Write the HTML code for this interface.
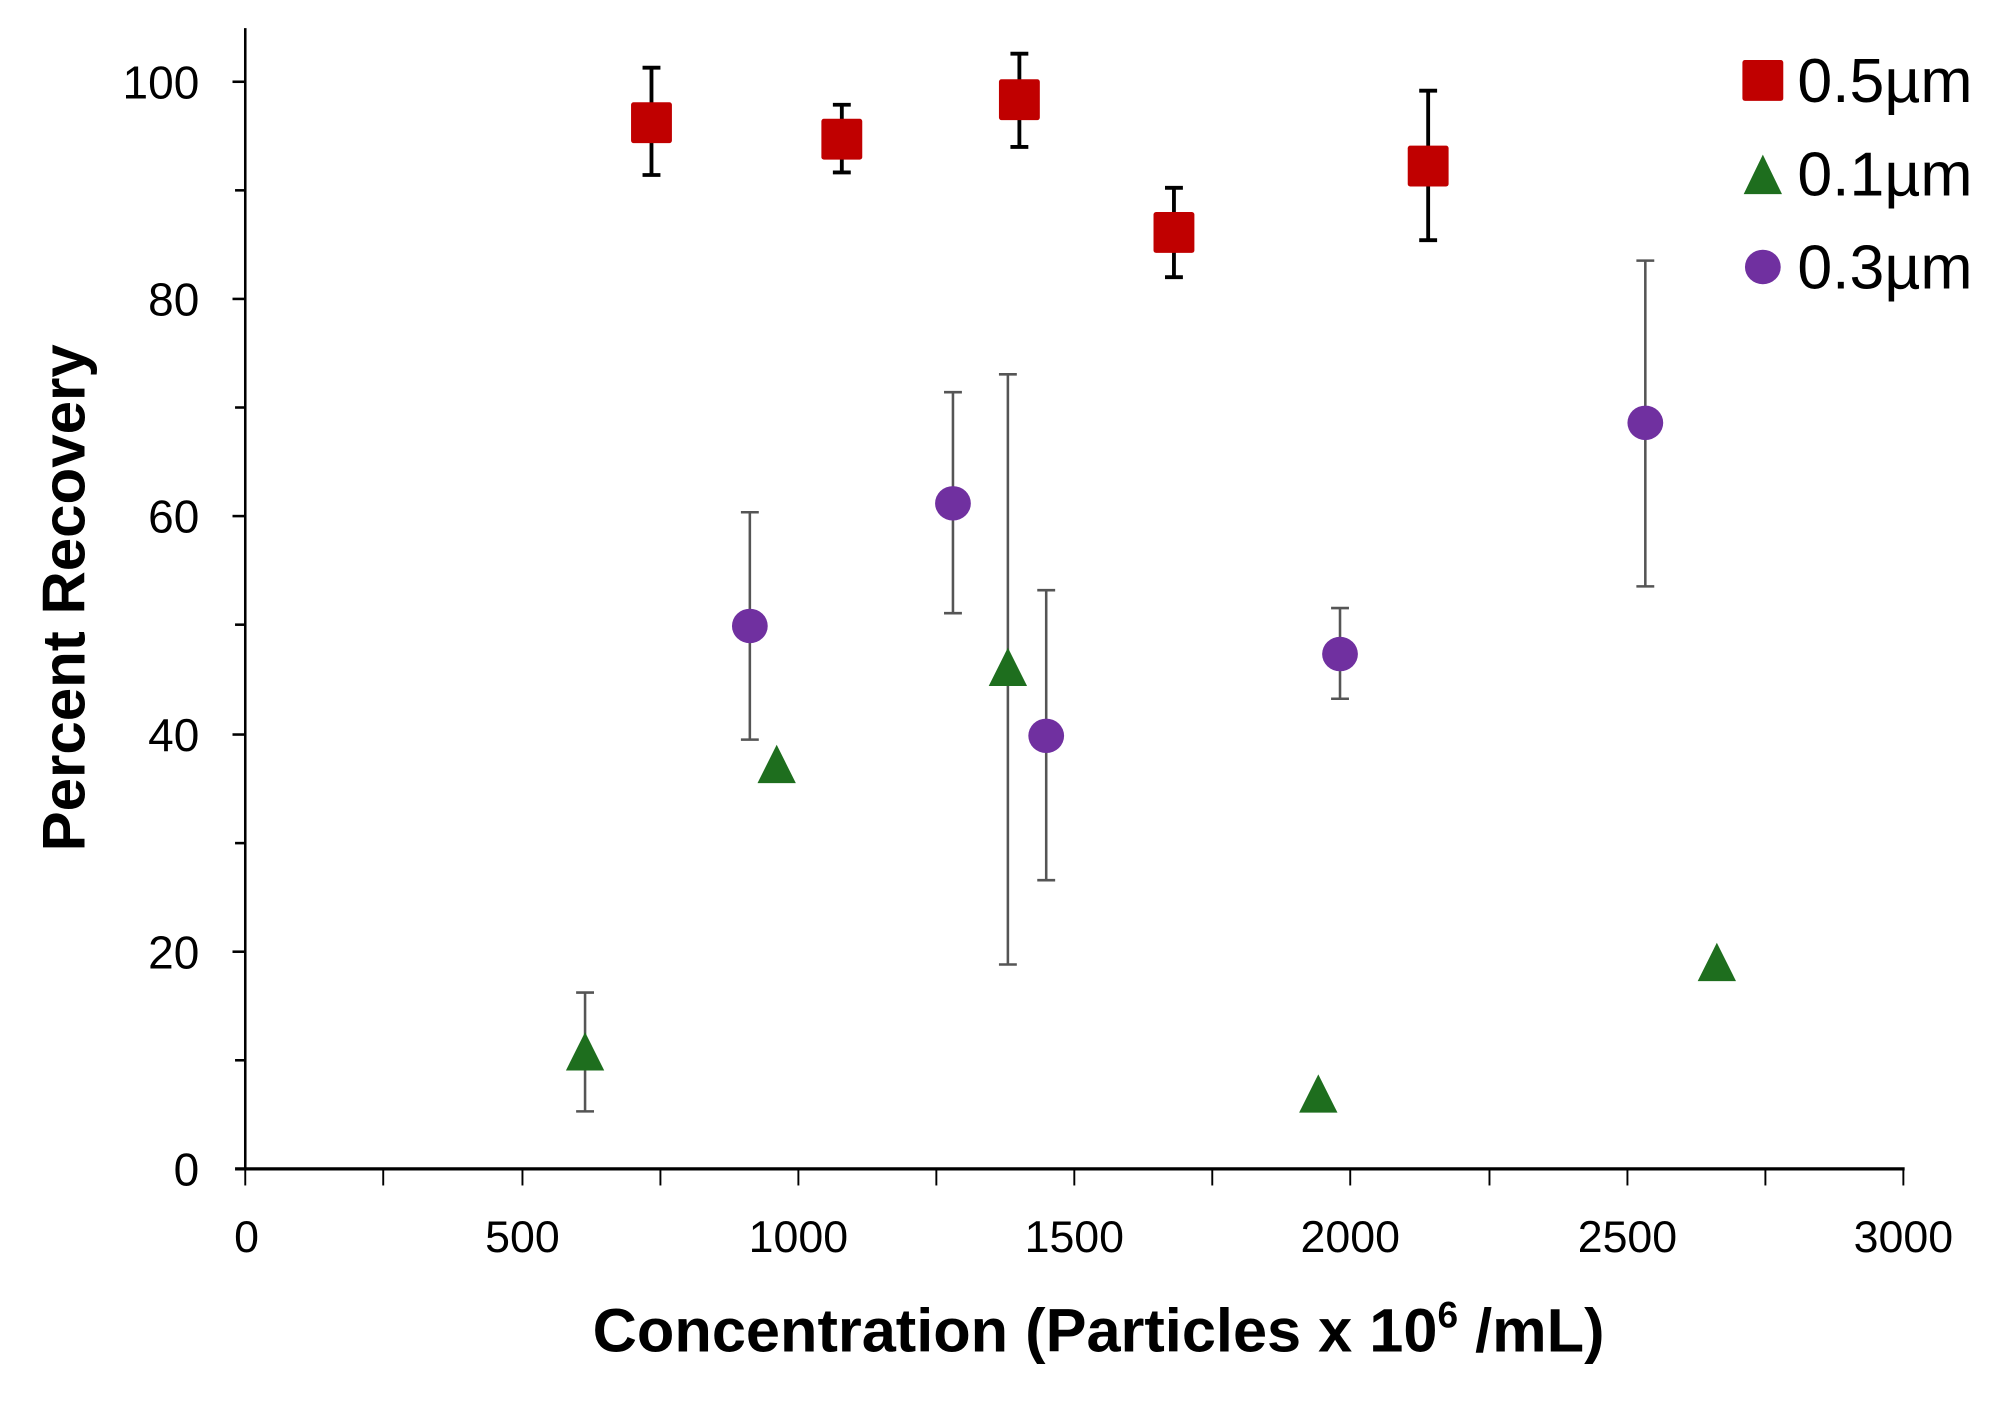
<!DOCTYPE html>
<html><head><meta charset="utf-8"><style>
html,body{margin:0;padding:0;background:#fff;}
svg{display:block;}
text{font-family:"Liberation Sans",Arial,sans-serif;fill:#000;}
</style></head><body>
<svg width="2003" height="1402" viewBox="0 0 1568 1097.5" preserveAspectRatio="none" xmlns="http://www.w3.org/2000/svg">
<line x1="192" y1="22" x2="192" y2="916" stroke="#000" stroke-width="2"/>
<line x1="184" y1="915" x2="1491" y2="915" stroke="#000" stroke-width="2.5"/>
<g stroke="#000" stroke-width="2">
<line x1="182" y1="64" x2="192" y2="64"/><line x1="182" y1="234" x2="192" y2="234"/><line x1="182" y1="404" x2="192" y2="404"/><line x1="182" y1="575" x2="192" y2="575"/><line x1="182" y1="745" x2="192" y2="745"/>
<line x1="184" y1="149" x2="192" y2="149"/><line x1="184" y1="319" x2="192" y2="319"/><line x1="184" y1="489" x2="192" y2="489"/><line x1="184" y1="660" x2="192" y2="660"/><line x1="184" y1="830" x2="192" y2="830"/>
</g>
<g stroke="#000" stroke-width="1.5">
<line x1="192" y1="915" x2="192" y2="928"/><line x1="300" y1="915" x2="300" y2="928"/><line x1="409" y1="915" x2="409" y2="928"/><line x1="517" y1="915" x2="517" y2="928"/><line x1="625" y1="915" x2="625" y2="928"/><line x1="733" y1="915" x2="733" y2="928"/><line x1="841" y1="915" x2="841" y2="928"/><line x1="949" y1="915" x2="949" y2="928"/><line x1="1057" y1="915" x2="1057" y2="928"/><line x1="1166" y1="915" x2="1166" y2="928"/><line x1="1274" y1="915" x2="1274" y2="928"/><line x1="1382" y1="915" x2="1382" y2="928"/><line x1="1490" y1="915" x2="1490" y2="928"/>
</g>
<g font-size="36" text-anchor="end">
<text x="156" y="77">100</text><text x="156" y="247">80</text><text x="156" y="417">60</text><text x="156" y="588">40</text><text x="156" y="758">20</text><text x="156" y="928">0</text>
</g>
<g font-size="35" text-anchor="middle">
<text x="193" y="980">0</text><text x="409" y="980">500</text><text x="625" y="980">1000</text><text x="841" y="980">1500</text><text x="1057" y="980">2000</text><text x="1274" y="980">2500</text><text x="1490" y="980">3000</text>
</g>
<text x="860" y="1058" font-size="48" font-weight="bold" text-anchor="middle">Concentration (Particles x 10<tspan font-size="29" dy="-19">6</tspan><tspan dy="19"> /mL)</tspan></text>
<text transform="translate(66,468) rotate(-90)" font-size="47" font-weight="bold" text-anchor="middle">Percent Recovery</text>
<g stroke="#555" stroke-width="2">
<line x1="587" y1="401" x2="587" y2="579"/><line x1="580" y1="401" x2="594" y2="401"/><line x1="580" y1="579" x2="594" y2="579"/>
<line x1="746" y1="307" x2="746" y2="480"/><line x1="739" y1="307" x2="753" y2="307"/><line x1="739" y1="480" x2="753" y2="480"/>
<line x1="819" y1="462" x2="819" y2="689"/><line x1="812" y1="462" x2="826" y2="462"/><line x1="812" y1="689" x2="826" y2="689"/>
<line x1="1049" y1="476" x2="1049" y2="547"/><line x1="1042" y1="476" x2="1056" y2="476"/><line x1="1042" y1="547" x2="1056" y2="547"/>
<line x1="1288" y1="204" x2="1288" y2="459"/><line x1="1281" y1="204" x2="1295" y2="204"/><line x1="1281" y1="459" x2="1295" y2="459"/>
<line x1="458" y1="777" x2="458" y2="870"/><line x1="451" y1="777" x2="465" y2="777"/><line x1="451" y1="870" x2="465" y2="870"/>
<line x1="789" y1="293" x2="789" y2="755"/><line x1="782" y1="293" x2="796" y2="293"/><line x1="782" y1="755" x2="796" y2="755"/>
</g>
<g stroke="#000" stroke-width="3">
<line x1="510" y1="53" x2="510" y2="137"/><line x1="503" y1="53" x2="517" y2="53"/><line x1="503" y1="137" x2="517" y2="137"/>
<line x1="659" y1="82" x2="659" y2="135"/><line x1="652" y1="82" x2="666" y2="82"/><line x1="652" y1="135" x2="666" y2="135"/>
<line x1="798" y1="42" x2="798" y2="115"/><line x1="791" y1="42" x2="805" y2="42"/><line x1="791" y1="115" x2="805" y2="115"/>
<line x1="919" y1="147" x2="919" y2="217"/><line x1="912" y1="147" x2="926" y2="147"/><line x1="912" y1="217" x2="926" y2="217"/>
<line x1="1118" y1="71" x2="1118" y2="188"/><line x1="1111" y1="71" x2="1125" y2="71"/><line x1="1111" y1="188" x2="1125" y2="188"/>
</g>
<g fill="#c00000">
<rect x="494" y="80" width="32" height="32" rx="2"/><rect x="643" y="93" width="32" height="32" rx="2"/><rect x="782" y="62" width="32" height="32" rx="2"/><rect x="903" y="166" width="32" height="32" rx="2"/><rect x="1102" y="114" width="32" height="32" rx="2"/>
</g>
<g fill="#7030a0">
<ellipse cx="587" cy="490" rx="14" ry="13.5"/><ellipse cx="746" cy="394" rx="14" ry="13.5"/><ellipse cx="819" cy="576" rx="14" ry="13.5"/><ellipse cx="1049" cy="512" rx="14" ry="13.5"/><ellipse cx="1288" cy="331" rx="14" ry="13.5"/>
</g>
<g fill="#1e6e1e">
<polygon points="458,808 443,838 473,838"/><polygon points="608,583 593,613 623,613"/><polygon points="789,507 774,537 804,537"/><polygon points="1032,841 1017,871 1047,871"/><polygon points="1344,738 1329,768 1359,768"/>
</g>
<rect x="1364" y="47" width="32" height="32" rx="2" fill="#c00000"/>
<polygon points="1380,121 1365,152 1395,152" fill="#1e6e1e"/>
<ellipse cx="1380" cy="209" rx="14" ry="13.5" fill="#7030a0"/>
<g font-size="49"><text x="1407" y="80">0.5µm</text><text x="1407" y="153">0.1µm</text><text x="1407" y="226">0.3µm</text></g>
</svg>
</body></html>
